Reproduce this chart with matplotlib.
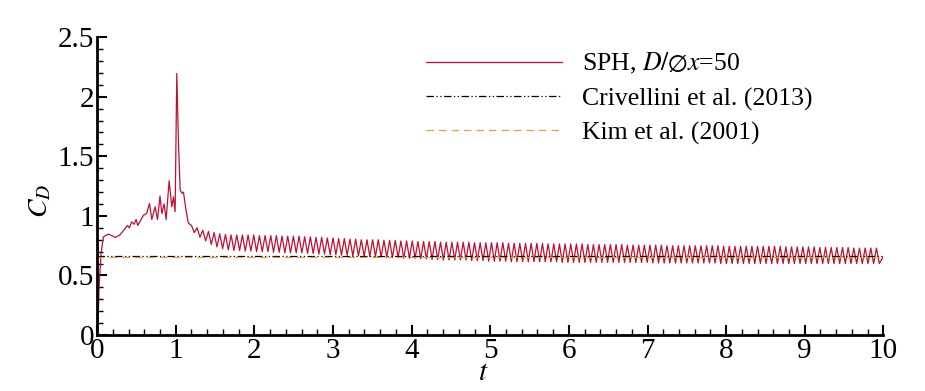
import numpy as np
import matplotlib.pyplot as plt
from matplotlib.ticker import MultipleLocator

plt.rcParams['font.family'] = ['Liberation Serif', 'DejaVu Serif']
plt.rcParams['mathtext.fontset'] = 'stix'

# start-up transient and the spike near t=1
t_start = [0.0, 0.008, 0.025, 0.05, 0.08, 0.144, 0.23, 0.29, 0.356, 0.386, 0.41,
           0.44, 0.47, 0.496, 0.517, 0.55, 0.59, 0.63, 0.666, 0.695, 0.738,
           0.768, 0.80, 0.823, 0.852, 0.878, 0.916, 0.95, 0.971, 0.992, 1.013,
           1.035, 1.056, 1.08, 1.098, 1.13, 1.16]
cd_start = [0.0, 0.04, 0.405, 0.685, 0.825, 0.847, 0.82, 0.84, 0.895, 0.92, 0.90,
            0.95, 0.93, 0.97, 0.92, 0.96, 1.006, 1.02, 1.105, 0.97, 1.076,
            0.97, 1.166, 1.02, 1.10, 0.97, 1.295, 1.076, 1.16, 1.035, 2.195,
            1.60, 1.216, 1.19, 1.20, 1.05, 0.94]

# shedding oscillation after the spike: first peak time and half period
osc_t0 = 1.20
osc_half = 0.036
peak_cd = [0.92, 0.90, 0.88, 0.87, 0.86, 0.85, 0.845,
           0.84, 0.84, 0.84, 0.84, 0.84, 0.835, 0.835, 0.835, 0.835, 0.83, 0.83, 0.83,
           0.83, 0.825, 0.825, 0.82, 0.82, 0.815, 0.815, 0.81, 0.81, 0.805, 0.805, 0.80, 0.80, 0.80,
           0.80, 0.795, 0.795, 0.795, 0.79, 0.79, 0.79, 0.785, 0.785, 0.785, 0.785, 0.78, 0.78, 0.78,
           0.78, 0.78, 0.78, 0.775, 0.775, 0.775, 0.775, 0.775, 0.775, 0.77, 0.77, 0.77, 0.77, 0.77,
           0.77, 0.77, 0.765, 0.765, 0.765, 0.765, 0.765, 0.765, 0.765, 0.76, 0.76, 0.76, 0.76, 0.76,
           0.76, 0.76, 0.755, 0.755, 0.755, 0.755, 0.755, 0.755, 0.755, 0.75, 0.75, 0.75, 0.75, 0.75,
           0.75, 0.75, 0.75, 0.75, 0.75, 0.745, 0.745, 0.745, 0.745, 0.745, 0.745, 0.745, 0.745, 0.745,
           0.745, 0.745, 0.74, 0.74, 0.74, 0.74, 0.74, 0.74, 0.735, 0.735, 0.735, 0.735, 0.735,
           0.735, 0.73, 0.73, 0.73, 0.73, 0.73]
trough_cd = [0.86, 0.82, 0.79, 0.76, 0.74, 0.725, 0.715,
             0.71, 0.71, 0.705, 0.705, 0.70, 0.70, 0.70, 0.695, 0.695, 0.69, 0.69, 0.69,
             0.69, 0.685, 0.685, 0.68, 0.68, 0.675, 0.675, 0.67, 0.67, 0.665, 0.665, 0.66, 0.66, 0.66,
             0.655, 0.655, 0.65, 0.65, 0.645, 0.645, 0.645, 0.64, 0.64, 0.635, 0.635, 0.63, 0.63, 0.63,
             0.63, 0.63, 0.625, 0.625, 0.625, 0.62, 0.62, 0.62, 0.62, 0.615, 0.615, 0.615, 0.615, 0.615,
             0.615, 0.615, 0.615, 0.615, 0.61, 0.61, 0.61, 0.61, 0.61, 0.61, 0.61, 0.61, 0.61, 0.61,
             0.61, 0.61, 0.61, 0.61, 0.61, 0.61, 0.605, 0.605, 0.605, 0.605, 0.605, 0.605, 0.605, 0.605,
             0.605, 0.605, 0.605, 0.605, 0.60, 0.60, 0.60, 0.60, 0.60, 0.60, 0.60, 0.60, 0.60, 0.60,
             0.60, 0.60, 0.60, 0.60, 0.60, 0.60, 0.60, 0.60, 0.60, 0.60, 0.60, 0.60, 0.60,
             0.60, 0.60, 0.60, 0.60, 0.60, 0.60]
cd_end = 0.66

cd_crivellini = 0.66
cd_kim = 0.656

# assemble the SPH series
osc_cd = []
for p, q in zip(peak_cd, trough_cd):
    osc_cd += [p, q]
osc_t = osc_t0 + osc_half * np.arange(len(osc_cd))
t = np.concatenate([t_start, osc_t, [10.0]])
cd = np.concatenate([cd_start, osc_cd, [cd_end]])

fig = plt.figure(figsize=(9.25, 3.91), dpi=100)
ax = fig.add_axes([0.105, 0.143, 0.850, 0.762])

ax.plot(t, cd, color='#bf1030', lw=0.9, label='SPH, $D/\\varnothing x$=50')
ax.plot([0, 10], [cd_crivellini] * 2, color='black', lw=0.9,
        dashes=(6, 2, 1, 2, 1, 2), label='Crivellini et al. (2013)')
ax.plot([0, 10], [cd_kim] * 2, color='#e3a23a', lw=0.9,
        dashes=(6, 4), label='Kim et al. (2001)')

ax.set_xlim(0, 10)
ax.set_ylim(0, 2.5)
ax.xaxis.set_minor_locator(MultipleLocator(0.2))
ax.yaxis.set_minor_locator(MultipleLocator(0.1))
ax.set_xticks(range(11))
ax.set_yticks([0, 0.5, 1, 1.5, 2, 2.5])
ax.set_yticklabels(['0', '0.5', '1', '1.5', '2', '2.5'])

for s in ['top', 'right']:
    ax.spines[s].set_visible(False)
for s in ['left', 'bottom']:
    ax.spines[s].set_linewidth(2)

ax.tick_params(which='major', direction='in', length=7, width=1.5,
               labelsize=21, pad=2)
ax.tick_params(which='minor', direction='in', length=4, width=1)

ax.set_xlabel('$t$', fontsize=21)
ax.set_ylabel('$C_D$', fontsize=20)
ax.xaxis.set_label_coords(0.491, -0.085)
ax.yaxis.set_label_coords(-0.055, 0.45)

ax.legend(loc='upper left', bbox_to_anchor=(0.40, 1.0), frameon=False,
          fontsize=18.5, handlelength=5.3, handletextpad=0.8, labelspacing=0.42,
          borderaxespad=0.15)

fig.savefig('out.png', dpi=100)
